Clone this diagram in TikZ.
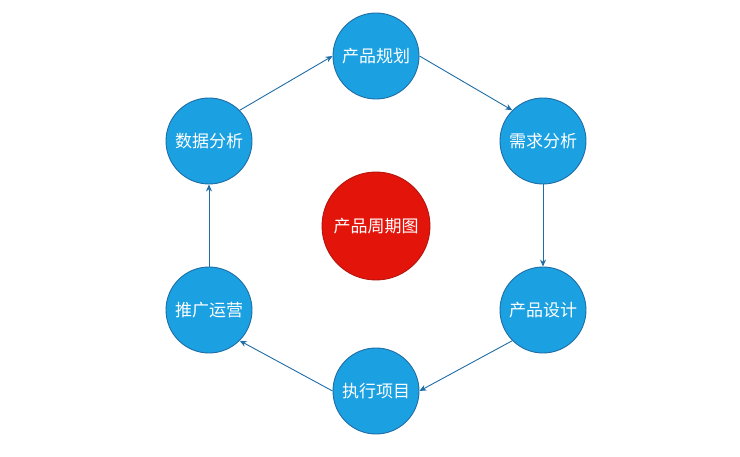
\documentclass[tikz,border=0pt]{standalone}
\usepackage{fontspec}
\newfontfamily\cjk{Noto Sans CJK SC}
\usetikzlibrary{arrows.meta}

\definecolor{stageblue}{HTML}{1BA1E2}
\definecolor{stageline}{HTML}{1E6DA6}
\definecolor{hubred}{HTML}{E3150B}
\definecolor{hubline}{HTML}{B3140E}

\begin{document}
\begin{tikzpicture}[
			x=1pt, y=-1pt,
			every node/.style={font=\cjk\fontsize{17}{20}\selectfont, text=white},
			stage/.style={circle, draw=stageline, line width=0.9pt, fill=stageblue, minimum size=86pt, inner sep=0pt},
			hub/.style={circle, draw=hubline, line width=0.9pt, fill=hubred, minimum size=108pt, inner sep=0pt},
			flow/.style={-{Stealth[length=7pt, width=6pt]}, draw=stageline, line width=0.9pt}
			]
			\useasboundingbox (0,0) rectangle (740,457);
			
			% Centre
			\node[hub] (cycle) at (376,226) {产品周期图};
			
			% Stages of the cycle
			\node[stage] (plan) at (376,56) {产品规划};
			\node[stage] (need) at (543,141) {需求分析};
			\node[stage] (design) at (543,310) {产品设计};
			\node[stage] (exec) at (376,391) {执行项目};
			\node[stage] (promo) at (209,310) {推广运营};
			\node[stage] (data) at (209,141) {数据分析};
			
			% Arrows round the ring
			\draw[flow] (plan.east) -- (need.north west);
			\draw[flow] (need.south) -- (design.north);
			\draw[flow] (design.south west) -- (exec.east);
			\draw[flow] (exec.west) -- (promo.south east);
			\draw[flow] (promo.north) -- (data.south);
			\draw[flow] (data.north east) -- (plan.west);
		\end{tikzpicture}
\end{document}
